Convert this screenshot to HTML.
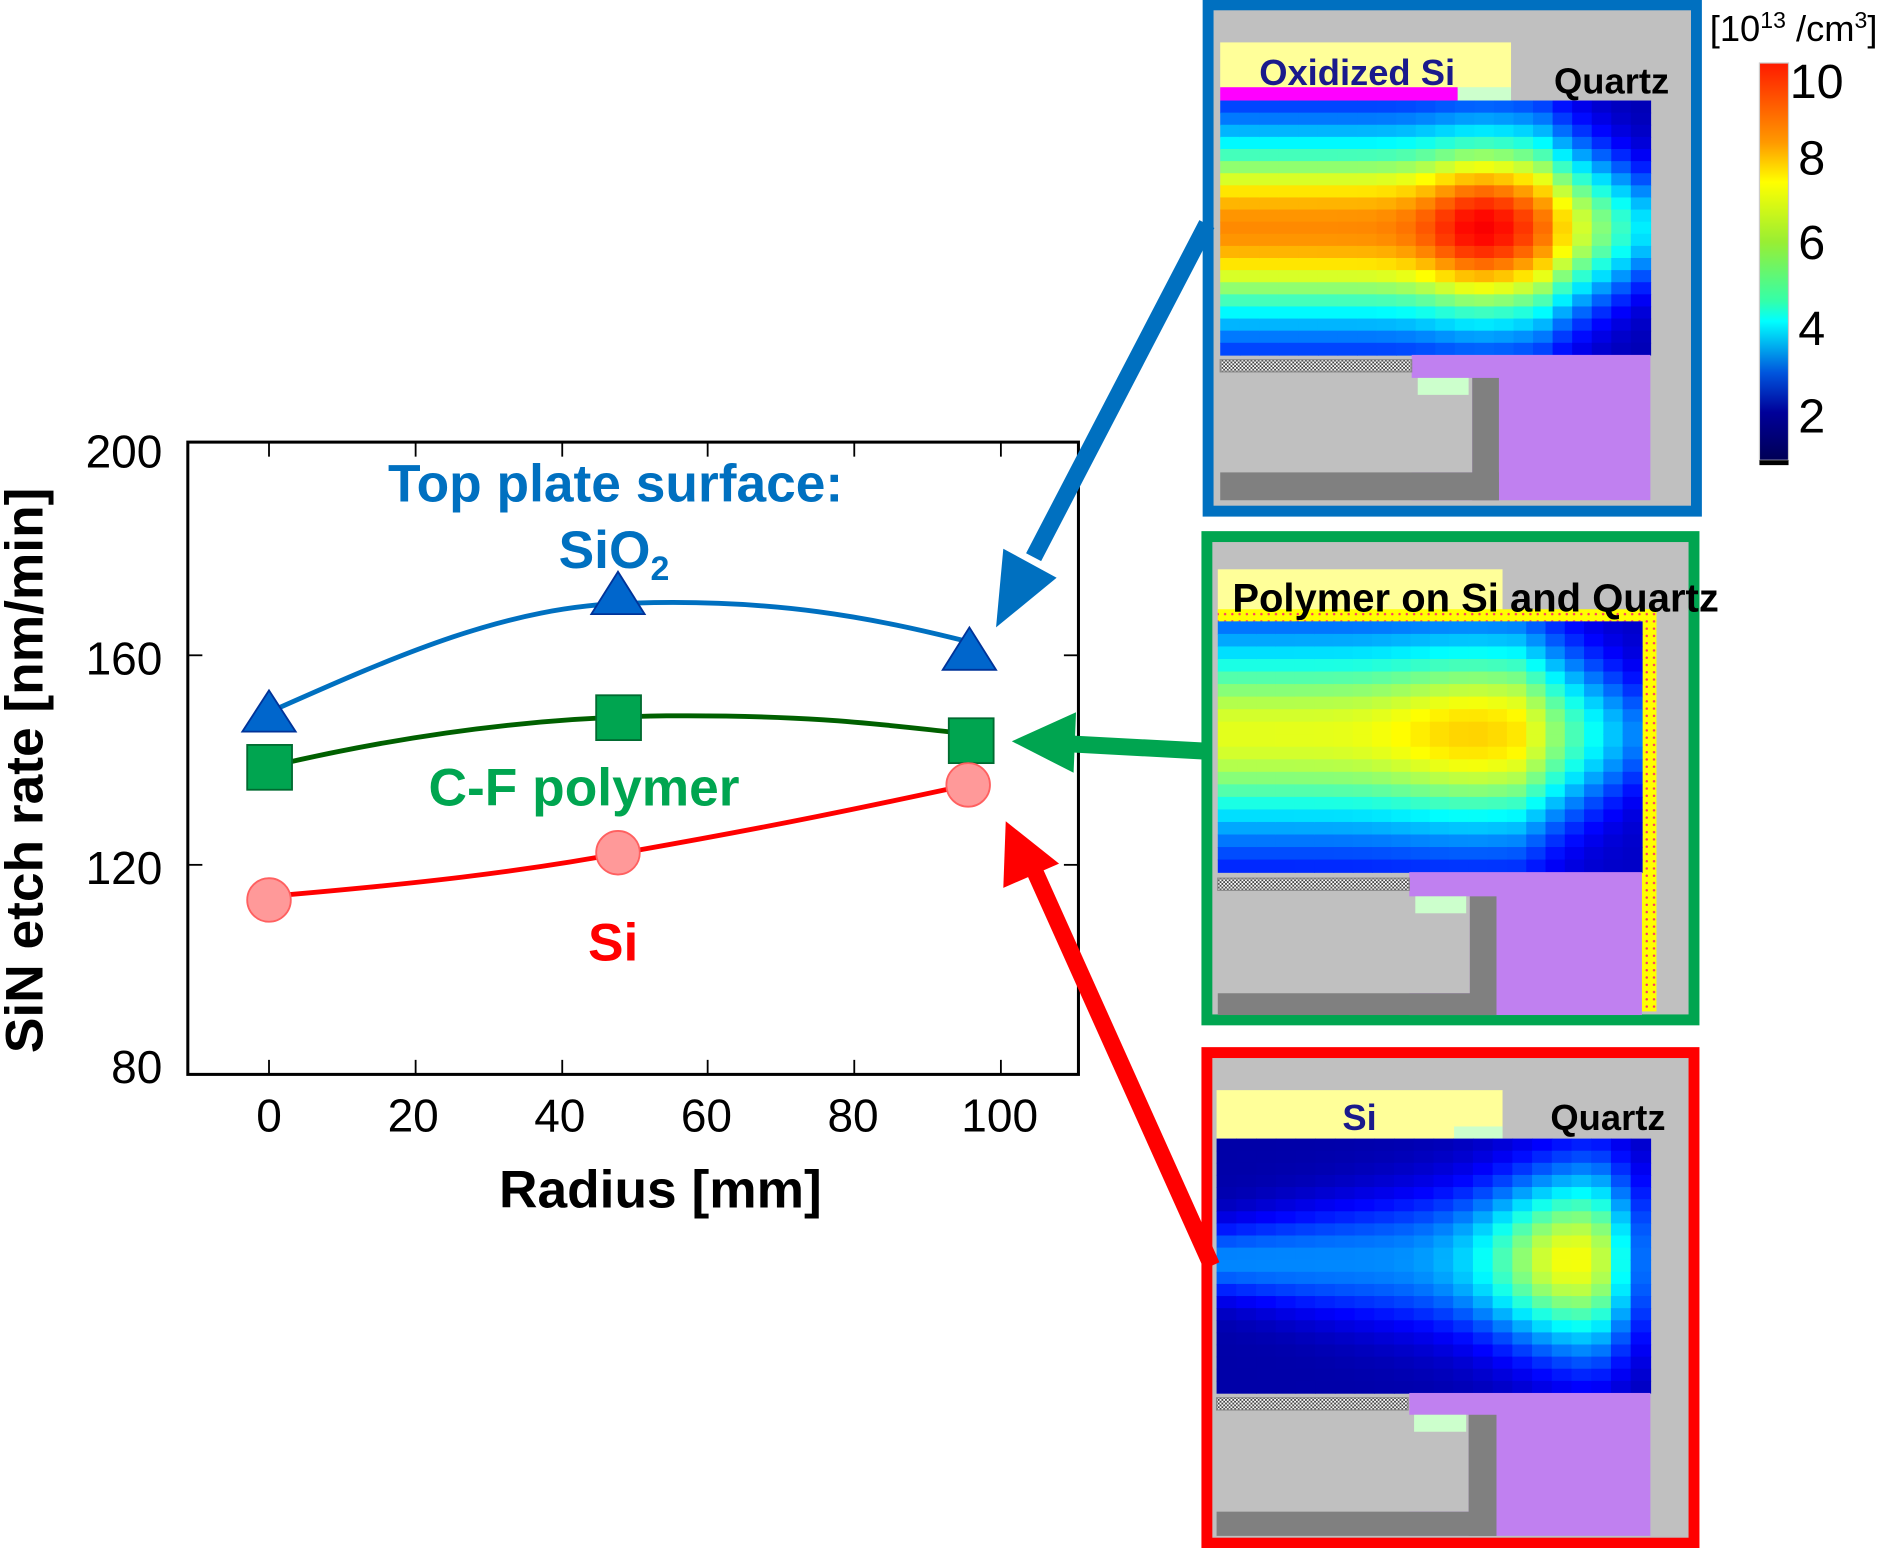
<!DOCTYPE html>
<html><head><style>html,body{margin:0;padding:0;background:#fff}svg{display:block}</style></head>
<body>
<svg id="s" width="1900" height="1548" viewBox="0 0 1568 1278" preserveAspectRatio="none" xmlns="http://www.w3.org/2000/svg" font-family="Liberation Sans, Arial, sans-serif">
<defs>
<linearGradient id="cb" x1="0" y1="0" x2="0" y2="1">
<stop offset="0" stop-color="#ff1a00"/><stop offset="0.2" stop-color="#ff9900"/><stop offset="0.3" stop-color="#ffff00"/><stop offset="0.45" stop-color="#99ee33"/><stop offset="0.6" stop-color="#33ffaa"/><stop offset="0.65" stop-color="#00ffff"/><stop offset="0.78" stop-color="#0055dd"/><stop offset="0.88" stop-color="#000099"/><stop offset="1" stop-color="#000055"/>
</linearGradient>
<pattern id="dots" width="6" height="6" patternUnits="userSpaceOnUse"><rect width="6" height="6" fill="#ffff00"/><circle cx="3" cy="3" r="1" fill="#ff3366"/></pattern>
<pattern id="hat" width="3" height="3" patternUnits="userSpaceOnUse"><rect width="3" height="3" fill="#fff"/><rect width="1.5" height="1.5" fill="#444"/><rect x="1.5" y="1.5" width="1.5" height="1.5" fill="#444"/></pattern>
</defs>

<!-- Panel 1 -->
<rect x="997" y="4" width="403" height="418" fill="#c0c0c0" stroke="#0070c0" stroke-width="9"/>
<rect x="1007" y="35" width="240" height="38" fill="#ffff99"/>
<rect x="1007" y="72" width="196" height="11" fill="#ff00ff"/>
<rect x="1203" y="72" width="44" height="11" fill="#ccffcc"/>
<text x="1120" y="70" font-size="30" font-weight="bold" fill="#1a1a8c" text-anchor="middle">Oxidized Si</text>
<text x="1330" y="77" font-size="30" font-weight="bold" fill="#000" text-anchor="middle">Quartz</text>
<g id="hm1"></g>
<rect x="1165" y="293" width="197" height="120" fill="#c080f0"/>
<rect x="1007" y="297" width="158" height="10" fill="url(#hat)" stroke="#888" stroke-width="1"/>
<rect x="1007" y="312" width="208" height="78" fill="#c0c0c0"/>
<rect x="1215" y="312" width="22" height="101" fill="#808080"/>
<rect x="1007" y="390" width="230" height="23" fill="#808080"/>
<rect x="1170" y="312" width="42" height="14" fill="#ccffcc"/>

<!-- Panel 2 -->
<rect x="996" y="443" width="402" height="399" fill="#c0c0c0" stroke="#00a550" stroke-width="9"/>
<rect x="1005" y="470" width="235" height="35" fill="#ffff99"/>
<rect x="1005" y="503" width="362" height="10" fill="url(#dots)"/>
<rect x="1355" y="503" width="12" height="332" fill="url(#dots)"/>
<g id="hm2"></g>
<text x="1017" y="505" font-size="33" font-weight="bold" fill="#000">Polymer on Si and Quartz</text>
<rect x="1163" y="720" width="192" height="118" fill="#c080f0"/>
<rect x="1005" y="725" width="158" height="10" fill="url(#hat)" stroke="#888" stroke-width="1"/>
<rect x="1005" y="740" width="208" height="80" fill="#c0c0c0"/>
<rect x="1213" y="740" width="22" height="98" fill="#808080"/>
<rect x="1005" y="820" width="230" height="18" fill="#808080"/>
<rect x="1168" y="740" width="42" height="14" fill="#ccffcc"/>

<!-- Panel 3 -->
<rect x="996" y="869" width="402" height="405" fill="#c0c0c0" stroke="#ff0000" stroke-width="9"/>
<rect x="1004" y="900" width="236" height="40" fill="#ffff99"/>
<rect x="1200" y="930" width="40" height="10" fill="#ccffcc"/>
<text x="1122" y="933" font-size="30" font-weight="bold" fill="#1a1a8c" text-anchor="middle">Si</text>
<text x="1327" y="933" font-size="30" font-weight="bold" fill="#000" text-anchor="middle">Quartz</text>
<g id="hm3"></g>
<rect x="1163" y="1150" width="199" height="118" fill="#c080f0"/>
<rect x="1004" y="1154" width="158" height="10" fill="url(#hat)" stroke="#888" stroke-width="1"/>
<rect x="1004" y="1168" width="208" height="80" fill="#c0c0c0"/>
<rect x="1212" y="1168" width="23" height="100" fill="#808080"/>
<rect x="1004" y="1248" width="231" height="20" fill="#808080"/>
<rect x="1167" y="1168" width="43" height="14" fill="#ccffcc"/>

<!-- Colorbar -->
<rect x="1452" y="52" width="24" height="328" fill="url(#cb)" stroke="#ccc" stroke-width="1"/>
<rect x="1452" y="380" width="24" height="4" fill="#000"/>
<text x="1411" y="34" font-size="30" fill="#000">[10<tspan font-size="19" dy="-11">13</tspan><tspan dy="11"> /cm</tspan><tspan font-size="19" dy="-11">3</tspan><tspan dy="11">]</tspan></text>
<g font-size="40" fill="#000">
<text x="1477" y="81">10</text><text x="1484" y="144">8</text><text x="1484" y="214">6</text><text x="1484" y="285">4</text><text x="1484" y="357">2</text>
</g>

<!-- Chart axes -->
<rect x="155" y="365" width="735" height="522" fill="none" stroke="#000" stroke-width="2.5"/>
<g stroke="#000" stroke-width="1.5">
<line x1="155" y1="541" x2="167" y2="541"/><line x1="155" y1="714" x2="167" y2="714"/>
<line x1="878" y1="541" x2="890" y2="541"/><line x1="878" y1="714" x2="890" y2="714"/>
<line x1="222" y1="887" x2="222" y2="875"/><line x1="343" y1="887" x2="343" y2="875"/><line x1="464" y1="887" x2="464" y2="875"/><line x1="584" y1="887" x2="584" y2="875"/><line x1="705" y1="887" x2="705" y2="875"/><line x1="826" y1="887" x2="826" y2="875"/>
<line x1="222" y1="365" x2="222" y2="377"/><line x1="343" y1="365" x2="343" y2="377"/><line x1="464" y1="365" x2="464" y2="377"/><line x1="584" y1="365" x2="584" y2="377"/><line x1="705" y1="365" x2="705" y2="377"/><line x1="826" y1="365" x2="826" y2="377"/>
</g>
<g font-size="38" fill="#000" text-anchor="end">
<text x="134" y="386">200</text><text x="134" y="557">160</text><text x="134" y="730">120</text><text x="134" y="894">80</text>
</g>
<g font-size="38" fill="#000" text-anchor="middle">
<text x="222" y="934">0</text><text x="341" y="934">20</text><text x="462" y="934">40</text><text x="583" y="934">60</text><text x="704" y="934">80</text><text x="825" y="934">100</text>
</g>
<text x="545" y="997" font-size="44" font-weight="bold" text-anchor="middle">Radius [mm]</text>
<text transform="translate(35 636) rotate(-90)" font-size="44" font-weight="bold" text-anchor="middle">SiN etch rate [nm/min]</text>

<!-- Curves -->
<path d="M222 588 C330 540 420 500 520 498 C640 494 720 510 800 530" fill="none" stroke="#0070c0" stroke-width="4"/>
<path d="M222 633 C340 605 450 592 550 591 C680 590 740 600 801 606" fill="none" stroke="#006000" stroke-width="4"/>
<path d="M222 740 C340 730 430 720 520 703 C640 682 720 665 799 648" fill="none" stroke="#ff0000" stroke-width="4"/>
<g fill="#0066cc" stroke="#003399" stroke-width="1.5">
<polygon points="222,570 200,604 244,604"/><polygon points="510,472 488,507 532,507"/><polygon points="800,518 778,553 822,553"/>
</g>
<g fill="#00a550" stroke="#006a30" stroke-width="1.5">
<rect x="204" y="615" width="37" height="37"/><rect x="492" y="574" width="37" height="37"/><rect x="783" y="593" width="37" height="37"/>
</g>
<g fill="#ff9999" stroke="#ff6060" stroke-width="1.5">
<circle cx="222" cy="743" r="18"/><circle cx="510" cy="704" r="18"/><circle cx="799" cy="648" r="18"/>
</g>
<text x="508" y="414" font-size="44" font-weight="bold" fill="#0070c0" text-anchor="middle">Top plate surface:</text>
<text x="461" y="469" font-size="44" font-weight="bold" fill="#0070c0">SiO<tspan font-size="28" dy="10">2</tspan></text>
<text x="482" y="665" font-size="44" font-weight="bold" fill="#00a550" text-anchor="middle">C-F polymer</text>
<text x="506" y="793" font-size="44" font-weight="bold" fill="#ff0000" text-anchor="middle">Si</text>

<!-- Arrows -->
<line x1="996" y1="185" x2="853" y2="460" stroke="#0070c0" stroke-width="14"/>
<polygon points="822,518 872,477 828,453" fill="#0070c0"/>
<line x1="993" y1="620" x2="880" y2="614" stroke="#00a550" stroke-width="14"/>
<polygon points="835,612 888,588 886,638" fill="#00a550"/>
<line x1="1000" y1="1045" x2="852" y2="715" stroke="#ff0000" stroke-width="14"/>
<polygon points="830,678 874,713 828,733" fill="#ff0000"/>
</svg>
<script>
(function(){
var NS="http://www.w3.org/2000/svg";
function cl(v){return Math.max(0,Math.min(1,v));}
function jet(v){v=cl(v);var r=cl(1.5-Math.abs(4*v-3)),g=cl(1.5-Math.abs(4*v-2)),b=cl(1.5-Math.abs(4*v-1));
return "rgb("+Math.round(r*255)+","+Math.round(g*255)+","+Math.round(b*255)+")";}
function draw(id,x0,y0,w,h,nx,ny,f){var g=document.getElementById(id);var cw=w/nx,ch=h/ny;
for(var i=0;i<nx;i++)for(var j=0;j<ny;j++){var xn=(i+0.5)/nx,yn=(j+0.5)/ny;var r=document.createElementNS(NS,"rect");
r.setAttribute("x",(x0+i*cw).toFixed(2));r.setAttribute("y",(y0+j*ch).toFixed(2));r.setAttribute("width",(cw+0.6).toFixed(2));r.setAttribute("height",(ch+0.6).toFixed(2));r.setAttribute("fill",jet(f(xn,yn)));g.appendChild(r);}}
function R(xn,a,b){return xn<a?1:Math.max(0,1-(xn-a)/(b-a));}
draw("hm1",1007,83,355,210,22,21,function(x,y){
 var A=0.74+0.14*Math.exp(-Math.pow((x-0.61)/0.13,2));
 var rr=R(x,0.74,1.04);var s=0.38*(0.5+0.5*rr);
 return 0.05+(A-0.05)*Math.exp(-Math.pow((y-0.5)/s,2))*(0.3+0.7*rr);});
draw("hm2",1005,513,350,207,22,20,function(x,y){
 var A=0.6+0.07*Math.exp(-Math.pow((x-0.6)/0.18,2));
 var rr=R(x,0.72,1.02);var s=0.4*(0.5+0.5*rr);
 return 0.07+(A-0.07)*Math.exp(-Math.pow((y-0.45)/s,2))*(0.25+0.75*rr);});
draw("hm3",1004,940,358,210,22,21,function(x,y){
 var A=0.26+0.36*Math.exp(-Math.pow((x-0.82)/0.2,2));
 if(x>0.88)A*=Math.max(0.2,1-(x-0.88)*5);
 var s=0.14+0.26*Math.min(x,0.85);
 return 0.04+(A-0.04)*Math.exp(-Math.pow((y-0.48)/s,2));});
})();
</script>
</body></html>
